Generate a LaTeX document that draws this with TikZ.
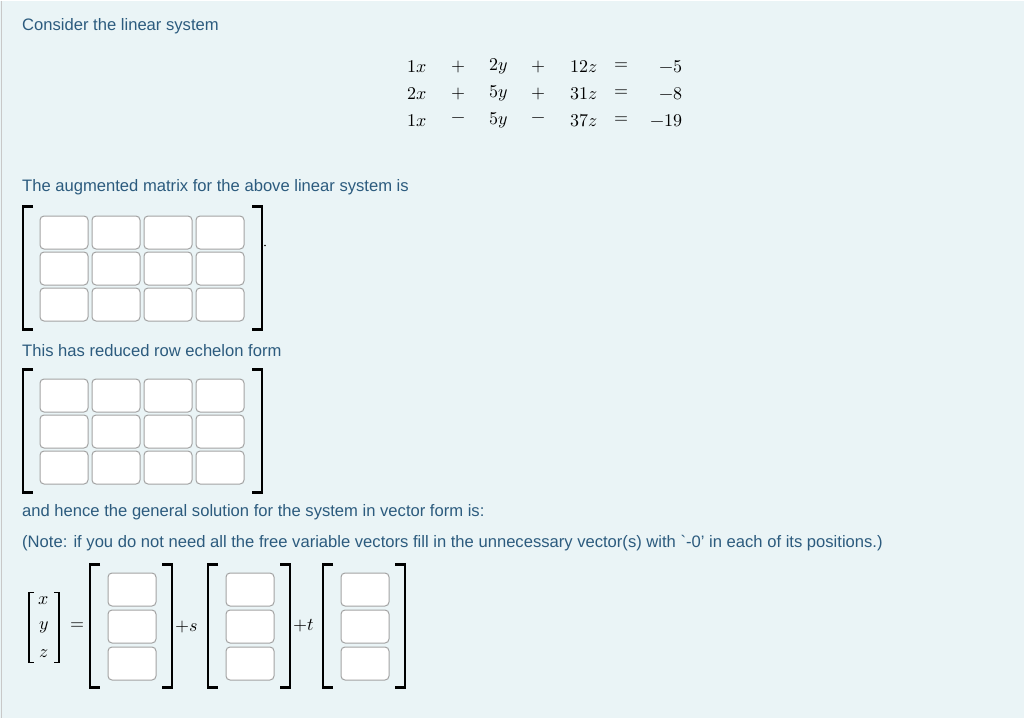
\documentclass[tikz,border=0pt]{standalone}
\usepackage{fontspec}
\setmainfont{Liberation Sans}
\usepackage{unicode-math}
\setmathfont{Latin Modern Math}
\definecolor{bg}{HTML}{EAF4F6}
\definecolor{txt}{HTML}{2C5B7E}
\definecolor{bx}{HTML}{A3A3A3}
\tikzset{
 box/.style={draw=bx,fill=white,rounded corners=4pt,line width=1pt,minimum width=48pt,minimum height=33pt,inner sep=0pt},
 lbl/.style={anchor=west,inner sep=0pt,text=txt,font=\fontsize{16.6}{19}\selectfont},
 mth/.style={inner sep=0pt,font=\fontsize{18}{20}\selectfont},
 brk/.style={line width=2.2pt}
}
\begin{document}
\begin{tikzpicture}[x=1pt,y=-1pt]
\fill[bg] (0,0) rectangle (1024,717);
\draw[bx!60,line width=1pt] (1,0) -- (1,717);
\useasboundingbox (0,0) rectangle (1024,717);
\node[lbl] (t1) at (22,26) {Consider the linear system};
% equations
\foreach \r/\y/\a/\oa/\b/\ob/\c/\d in {1/66/1x/+/2y/+/12z/-5, 2/93/2x/+/5y/+/31z/-8, 3/120/1x/-/5y/-/37z/-19}{
 \node[mth,anchor=east] (a\r) at (427,\y) {$\a$};
 \node[mth] (o\r) at (458,\y) {$\oa$};
 \node[mth,anchor=east] (b\r) at (508,\y) {$\b$};
 \node[mth] (p\r) at (538,\y) {$\ob$};
 \node[mth,anchor=east] (c\r) at (598,\y) {$\c$};
 \node[mth] (e\r) at (621,\y) {$=$};
 \node[mth,anchor=east] (d\r) at (683,\y) {$\d$};
}
\node[lbl] (t2) at (22,187) {The augmented matrix for the above linear system is};
\node[lbl] (t3) at (22,350) {This has reduced row echelon form};
\node[lbl] (t4) at (22,512) {and hence the general solution for the system in vector form is:};
\node[lbl] (t5) at (22,543) {(Note: if you do not need all the free variable vectors fill in the unnecessary vector(s) with \textasciigrave-0' in each of its positions.)};
% matrices
\foreach \top/\nm in {206/A,369/R}{
 \draw[brk] (33,\top) -- (23,\top) -- (23,\top+123) -- (33,\top+123);
 \draw[brk] (252,\top) -- (262,\top) -- (262,\top+123) -- (252,\top+123);
 \foreach \i in {0,1,2}{\foreach \j in {0,1,2,3}{
  \node[box] (\nm\i\j) at (64+52*\j,\top+26+36*\i) {};
 }}
}
\fill (265,245) circle (0.9);
% vector
\draw[line width=1.2pt] (34,592) -- (29,592) -- (29,662) -- (34,662);
\draw[line width=1.2pt] (54,592) -- (59,592) -- (59,662) -- (54,662);
\node[mth] (vx) at (44,600) {$x$};
\node[mth] (vy) at (44,627) {$y$};
\node[mth] (vz) at (44,653) {$z$};
\node[mth] (eq) at (78,626) {$=$};
\foreach \lx/\nm in {90/P,208/S,323/T}{
 \draw[brk] (\lx+10,564) -- (\lx,564) -- (\lx,687) -- (\lx+10,687);
 \draw[brk] (\lx+72,564) -- (\lx+82,564) -- (\lx+82,687) -- (\lx+72,687);
 \foreach \i in {0,1,2}{\node[box] (\nm\i) at (\lx+42,589+37*\i) {};}
}
\node[mth,anchor=west] (ps) at (175,626) {$+s$};
\node[mth,anchor=west] (pt) at (293,625) {$+t$};
\end{tikzpicture}
\end{document}
